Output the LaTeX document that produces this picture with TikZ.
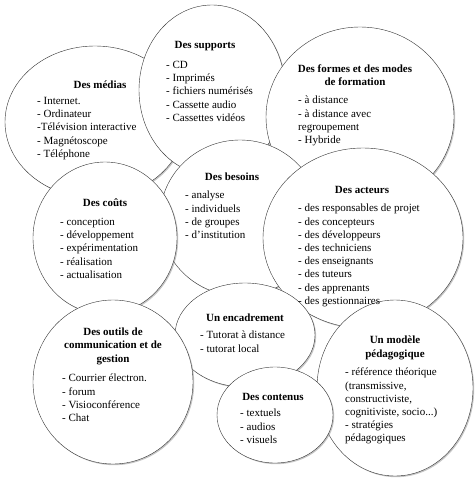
\documentclass[tikz,border=0pt]{standalone}
\usepackage{fontspec}
\setmainfont{Liberation Serif}
\usepackage{tikz}
\usetikzlibrary{positioning,shapes.geometric,shadows}

\begin{document}
\begin{tikzpicture}[x=1pt,y=-1pt]
\tikzset{
     bubble/.style={ellipse, draw=black!80, fill=white, inner sep=0pt,
       drop shadow={shadow xshift=1.2pt, shadow yshift=-1.2pt, fill=black!45}},
     titre/.style={font=\fontsize{11}{13.4}\selectfont\bfseries, align=center, inner sep=0pt},
     liste/.style={font=\fontsize{11}{13.2}\selectfont, align=left, inner sep=0pt, anchor=north west}}

\useasboundingbox (0,0) rectangle (474,481);

% The bubbles
\node (medias)     [bubble, minimum width=180, minimum height=152] at (95,122) {};
\node (supports)   [bubble, minimum width=146, minimum height=170] at (212,90) {};
\node (formes)     [bubble, minimum width=188, minimum height=180] at (360,117) {};
\node (besoins)    [bubble, minimum width=160, minimum height=156] at (240,218) {};
\node (acteurs)    [bubble, minimum width=200, minimum height=180] at (363,238) {};
\node (couts)      [bubble, minimum width=144, minimum height=152] at (105,238) {};
\node (encadrement)[bubble, minimum width=140, minimum height=104] at (245,335) {};
\node (outils)     [bubble, minimum width=160, minimum height=164] at (113,382) {};
\node (modele)     [bubble, minimum width=156, minimum height=176] at (395,388) {};
\node (contenus)   [bubble, minimum width=116, minimum height=96] at (275,415) {};

% The titles
\node (mediastitre)   [titre] at (100,85)  {Des médias};
\node (supportstitre) [titre] at (205,46)  {Des supports};
\node (formestitre)   [titre] at (355,75)  {Des formes et des modes\\de formation};
\node (besoinstitre)  [titre] at (232,177) {Des besoins};
\node (acteurstitre)  [titre] at (362,190) {Des acteurs};
\node (coutstitre)    [titre] at (105,203) {Des coûts};
\node (encadretitre)  [titre] at (245,318) {Un encadrement};
\node (outilstitre)   [titre] at (113,346) {Des outils de\\communication et de\\gestion};
\node (modeletitre)   [titre] at (395,348) {Un modèle\\pédagogique};
\node (contenustitre) [titre] at (273,397) {Des contenus};

% The lists
\node (medialist)    [liste] at (37,97)  {- Internet.\\- Ordinateur\\-Télévision interactive\\- Magnétoscope\\- Téléphone};
\node (supportlist)  [liste] at (166,61) {- CD\\- Imprimés\\- fichiers numérisés\\- Cassette audio\\- Cassettes vidéos};
\node (formelist)    [liste] at (298,96) {- à distance\\- à distance avec\\regroupement\\- Hybride};
\node (besoinlist)   [liste] at (185,191) {- analyse\\- individuels\\- de groupes\\- d'institution};
\node (acteurlist)   [liste] at (298,204) {- des responsables de projet\\- des concepteurs\\- des développeurs\\- des techniciens\\- des enseignants\\- des tuteurs\\- des apprenants\\- des gestionnaires};
\node (coutlist)     [liste] at (60,218) {- conception\\- développement\\- expérimentation\\- réalisation\\- actualisation};
\node (encadrelist)  [liste] at (200,331) {- Tutorat à distance\\- tutorat local};
\node (outilslist)   [liste] at (62,374) {- Courrier électron.\\- forum\\- Visioconférence\\- Chat};
\node (modelelist)   [liste] at (345,368) {- référence théorique\\(transmissive,\\constructiviste,\\cognitiviste, socio...)\\- stratégies\\pédagogiques};
\node (contenuslist) [liste] at (240,409) {- textuels\\- audios\\- visuels};
\end{tikzpicture}
\end{document}
